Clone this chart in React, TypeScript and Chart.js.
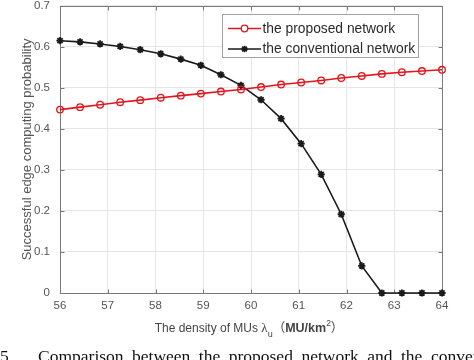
import React, { useEffect, useRef } from "react";
import { Chart, registerables } from "chart.js";

Chart.register(...registerables);

// ---- data ----
const xValues = [
  56, 56.42, 56.84, 57.26, 57.68, 58.11, 58.53, 58.95, 59.37, 59.79,
  60.21, 60.63, 61.05, 61.47, 61.89, 62.32, 62.74, 63.16, 63.58, 64,
];
const proposed = [
  0.447, 0.453, 0.459, 0.465, 0.47, 0.476, 0.481, 0.486, 0.491, 0.496,
  0.502, 0.508, 0.513, 0.518, 0.524, 0.529, 0.534, 0.538, 0.541, 0.544,
];
const conventional = [
  0.615, 0.612, 0.607, 0.601, 0.593, 0.583, 0.57, 0.555, 0.532, 0.506,
  0.471, 0.425, 0.364, 0.289, 0.192, 0.066, 0, 0, 0, 0,
];
const xTicks = [56, 57, 58, 59, 60, 61, 62, 63, 64];
const yTicks = [0, 0.1, 0.2, 0.3, 0.4, 0.5, 0.6, 0.7];
const seriesLabels = ["the proposed network", "the conventional network"];
const yTitle = "Successful edge computing probability";
const xTitleMain = "The density of MUs ";
const xTitleSymbol = "λ";
const xTitleSub = "u";
const xTitleUnit = "MU/km";
const xTitleSup = "2";
const captionNumber = "5";
const captionText = "Comparison between the proposed network and the conventional network";

// ---- style ----
const W = 474;
const H = 360;
const SANS = "'Liberation Sans', Arial, sans-serif";
const SERIF = "'Liberation Serif', 'Times New Roman', serif";
const CJK = "'Noto Sans CJK SC', sans-serif";
const RED = "#e3141b";
const BLACK = "#1a1a1a";
const AXIS = "#7a7a7a";
const GRID = "#e6e6e6";
const TICKTEXT = "#555555";

function line(ctx: CanvasRenderingContext2D, x1: number, y1: number, x2: number, y2: number) {
  ctx.beginPath();
  ctx.moveTo(x1, y1);
  ctx.lineTo(x2, y2);
  ctx.stroke();
}

const boxPlugin = {
  id: "boxPlugin",
  beforeDatasetsDraw(chart: any) {
    const ctx: CanvasRenderingContext2D = chart.ctx;
    const a = chart.chartArea;
    const xs = chart.scales.x;
    const ys = chart.scales.y;
    ctx.save();
    ctx.strokeStyle = AXIS;
    ctx.lineWidth = 1;
    const L = Math.round(a.left) + 0.5;
    const R = Math.round(a.right) + 0.5;
    const T = Math.round(a.top) + 0.5;
    const B = Math.round(a.bottom) + 0.5;
    ctx.strokeRect(L, T, R - L, B - T);
    const tl = 4;
    xTicks.forEach((v) => {
      const px = Math.round(xs.getPixelForValue(v)) + 0.5;
      line(ctx, px, B, px, B - tl);
      line(ctx, px, T, px, T + tl);
    });
    yTicks.forEach((v) => {
      const py = Math.round(ys.getPixelForValue(v)) + 0.5;
      line(ctx, L, py, L + tl, py);
      line(ctx, R, py, R - tl, py);
    });
    ctx.restore();
  },
  afterDraw(chart: any) {
    const ctx: CanvasRenderingContext2D = chart.ctx;
    const a = chart.chartArea;
    ctx.save();

    // legend
    const lx = 222.5, ly = 14.5, lw = 196, lh = 43;
    ctx.fillStyle = "#ffffff";
    ctx.fillRect(lx, ly, lw, lh);
    ctx.strokeStyle = "#a0a0a0";
    ctx.lineWidth = 1;
    ctx.strokeRect(lx, ly, lw, lh);
    const rows = [28.5, 49];
    const colors = [RED, BLACK];
    ctx.font = `13.8px ${SANS}`;
    ctx.textBaseline = "middle";
    ctx.textAlign = "left";
    rows.forEach((ry, i) => {
      ctx.strokeStyle = colors[i];
      ctx.lineWidth = 1.5;
      line(ctx, 228, ry, 261, ry);
      if (i === 0) {
        ctx.beginPath();
        ctx.arc(244.5, ry, 3.3, 0, Math.PI * 2);
        ctx.fillStyle = "#ffffff";
        ctx.fill();
        ctx.lineWidth = 1.3;
        ctx.stroke();
      } else {
        ctx.lineWidth = 1.8;
        const r = 3.2;
        line(ctx, 244.5 - r, ry, 244.5 + r, ry);
        line(ctx, 244.5, ry - r, 244.5, ry + r);
        line(ctx, 244.5 - r * 0.75, ry - r * 0.75, 244.5 + r * 0.75, ry + r * 0.75);
        line(ctx, 244.5 - r * 0.75, ry + r * 0.75, 244.5 + r * 0.75, ry - r * 0.75);
      }
      ctx.fillStyle = "#2a2a2a";
      ctx.fillText(seriesLabels[i], 262.5, ry + 0.5);
    });

    // y title
    ctx.save();
    ctx.translate(27, (a.top + a.bottom) / 2);
    ctx.rotate(-Math.PI / 2);
    ctx.font = `13px ${SANS}`;
    ctx.fillStyle = TICKTEXT;
    ctx.textAlign = "center";
    ctx.textBaseline = "middle";
    ctx.fillText(yTitle, 0, 0);
    ctx.restore();

    // x title
    const base = 332;
    const segs: { t: string; f: string; dy: number }[] = [
      { t: xTitleMain, f: `12px ${SANS}`, dy: 0 },
      { t: xTitleSymbol, f: `13px ${SERIF}`, dy: 0 },
      { t: xTitleSub, f: `9px ${SANS}`, dy: 5 },
      { t: "（", f: `12.5px ${CJK}`, dy: 0 },
      { t: xTitleUnit, f: `bold 12.5px ${SANS}`, dy: 0 },
      { t: xTitleSup, f: `8.5px ${SANS}`, dy: -6 },
      { t: "）", f: `12.5px ${CJK}`, dy: 0 },
    ];
    let total = 0;
    const widths = segs.map((s) => {
      ctx.font = s.f;
      const w = ctx.measureText(s.t).width;
      total += w;
      return w;
    });
    let cx = 249 - total / 2;
    ctx.textAlign = "left";
    ctx.textBaseline = "alphabetic";
    ctx.fillStyle = "#444444";
    segs.forEach((s, i) => {
      ctx.font = s.f;
      ctx.fillText(s.t, cx, base + s.dy);
      cx += widths[i];
    });

    // caption
    ctx.fillStyle = "#111111";
    ctx.font = `17.5px ${SERIF}`;
    ctx.textBaseline = "alphabetic";
    ctx.fillText(captionNumber, 0, 362);
    let wx = 38;
    captionText.split(" ").forEach((word) => {
      ctx.fillText(word, wx, 362);
      wx += ctx.measureText(word).width + 8.5;
    });

    ctx.restore();
  },
};

export default function App() {
  const ref = useRef<HTMLCanvasElement | null>(null);

  useEffect(() => {
    if (!ref.current) return;
    const chart = new Chart(ref.current, {
      type: "line",
      data: {
        datasets: [
          {
            label: seriesLabels[0],
            data: xValues.map((x, i) => ({ x, y: proposed[i] })),
            borderColor: RED,
            backgroundColor: "rgba(255,255,255,0)",
            borderWidth: 1.6,
            pointStyle: "circle",
            pointRadius: 3.3,
            pointBorderWidth: 1.3,
            pointBorderColor: RED,
            pointBackgroundColor: "rgba(255,255,255,0)",
            clip: false as any,
          },
          {
            label: seriesLabels[1],
            data: xValues.map((x, i) => ({ x, y: conventional[i] })),
            borderColor: BLACK,
            backgroundColor: BLACK,
            borderWidth: 1.6,
            pointStyle: "star",
            pointRadius: 3.6,
            pointBorderWidth: 1.8,
            pointBorderColor: BLACK,
            pointBackgroundColor: BLACK,
            clip: false as any,
          },
        ],
      },
      options: {
        responsive: false,
        animation: false,
        devicePixelRatio: 1,
        layout: { padding: { left: 0, right: W - 442, top: 5, bottom: 0 } },
        plugins: {
          legend: { display: false },
          tooltip: { enabled: false },
        },
        scales: {
          x: {
            type: "linear",
            min: 56,
            max: 64,
            afterBuildTicks: (s: any) => {
              s.ticks = xTicks.map((v) => ({ value: v }));
            },
            afterFit: (s: any) => {
              s.height = H - 293;
              s.paddingLeft = 0;
              s.paddingRight = 0;
            },
            ticks: {
              autoSkip: false,
              maxRotation: 0,
              padding: 6,
              color: TICKTEXT,
              font: { family: SANS, size: 11.5 },
              callback: (v: any) => String(v),
            },
            grid: { color: GRID, lineWidth: 1, drawTicks: false },
            border: { display: false },
          },
          y: {
            type: "linear",
            min: 0,
            max: 0.7,
            afterBuildTicks: (s: any) => {
              s.ticks = yTicks.map((v) => ({ value: v }));
            },
            afterFit: (s: any) => {
              s.width = 60;
              s.paddingTop = 0;
              s.paddingBottom = 0;
            },
            ticks: {
              autoSkip: false,
              padding: 10,
              color: TICKTEXT,
              font: { family: SANS, size: 11.5 },
              callback: (v: any) => String(v),
            },
            grid: { color: GRID, lineWidth: 1, drawTicks: false },
            border: { display: false },
          },
        },
      },
      plugins: [boxPlugin],
    });
    return () => chart.destroy();
  }, []);

  return (
    <div style={{ position: "absolute", left: 0, top: 0, width: W, height: H, background: "#fff" }}>
      <canvas ref={ref} width={W} height={H} style={{ display: "block", width: W, height: H }} />
    </div>
  );
}
